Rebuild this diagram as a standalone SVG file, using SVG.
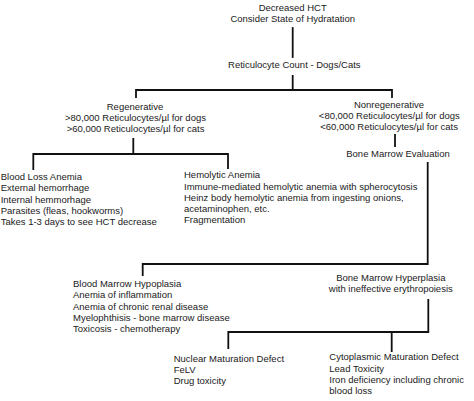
<svg xmlns="http://www.w3.org/2000/svg" width="474" height="401" viewBox="0 0 474 401">
<style>
text{font-family:"Liberation Sans",Arial,sans-serif;font-size:9.5px;fill:#1a1a1a}
.c{text-anchor:middle}
.ln{fill:none;stroke:#111;stroke-width:1.8;stroke-linecap:square;stroke-linejoin:miter}
</style>
<rect width="474" height="401" fill="#fff"/>
<g id="connectors" class="ln">
<path class="ln" d="M292.7,28V57"/>
<path class="ln" d="M292.7,76V90M136,97V90H392V97"/>
<path class="ln" d="M133.3,139V154M33.3,169V154H228V168"/>
<path class="ln" d="M395,135V146"/>
<path class="ln" d="M427.7,163V264H142.7V275"/>
<path class="ln" d="M428.3,300V332H228.3V348M391.7,332V351"/>
</g>
<g id="decreased-hct">
<text class="c" x="292.7" y="10.5">Decreased HCT</text>
<text class="c" x="292.7" y="21.5">Consider State of Hydratation</text>
</g>
<g id="reticulocyte-count">
<text class="c" x="294.3" y="68.3">Reticulocyte Count - Dogs/Cats</text>
</g>
<g id="regenerative">
<text class="c" x="135" y="110">Regenerative</text>
<text class="c" x="135.5" y="121">&gt;80,000 Reticulocytes/µl for dogs</text>
<text class="c" x="135.5" y="132.2">&gt;60,000 Reticulocytes/µl for cats</text>
</g>
<g id="nonregenerative">
<text class="c" x="389" y="107.5">Nonregenerative</text>
<text class="c" x="389.3" y="118.5">&lt;80,000 Reticulocytes/µl for dogs</text>
<text class="c" x="389" y="129.5">&lt;60,000 Reticulocytes/µl for cats</text>
</g>
<g id="bone-marrow-evaluation">
<text class="c" x="398" y="156.8">Bone Marrow Evaluation</text>
</g>
<g id="blood-loss-anemia">
<text x="0.7" y="180">Blood Loss Anemia</text>
<text x="0.7" y="191.3">External hemorrhage</text>
<text x="0.7" y="202.5">Internal hemmorhage</text>
<text x="0.7" y="213.7">Parasites (fleas, hookworms)</text>
<text x="0.7" y="225">Takes 1-3 days to see HCT decrease</text>
</g>
<g id="hemolytic-anemia">
<text x="184" y="178.3">Hemolytic Anemia</text>
<text x="184" y="189.6">Immune-mediated hemolytic anemia with spherocytosis</text>
<text x="184" y="200.8">Heinz body hemolytic anemia from ingesting onions,</text>
<text x="184" y="211.9">acetaminophen, etc.</text>
<text x="184" y="223">Fragmentation</text>
</g>
<g id="hypoplasia">
<text x="73" y="287.3">Blood Marrow Hypoplasia</text>
<text x="73" y="298.4">Anemia of inflammation</text>
<text x="73" y="309.5">Anemia of chronic renal disease</text>
<text x="73" y="320.6">Myelophthisis - bone marrow disease</text>
<text x="73" y="331.7">Toxicosis - chemotherapy</text>
</g>
<g id="hyperplasia">
<text class="c" x="390.8" y="280.7">Bone Marrow Hyperplasia</text>
<text class="c" x="390.8" y="291.8">with ineffective erythropoiesis</text>
</g>
<g id="nuclear-defect">
<text x="173.7" y="362">Nuclear Maturation Defect</text>
<text x="173.7" y="373.1">FeLV</text>
<text x="173.7" y="384.2">Drug toxicity</text>
</g>
<g id="cytoplasmic-defect">
<text x="329.3" y="360.4">Cytoplasmic Maturation Defect</text>
<text x="329.3" y="371.5">Lead Toxicity</text>
<text x="329.3" y="382.6">Iron deficiency including chronic</text>
<text x="329.3" y="393.7">blood loss</text>
</g>
</svg>
